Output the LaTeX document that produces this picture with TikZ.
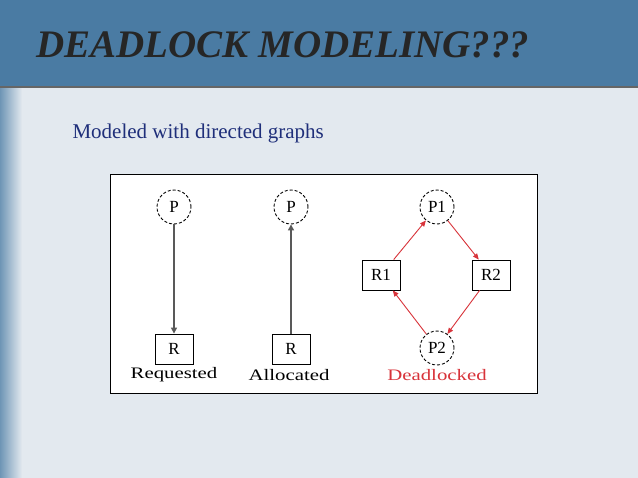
\documentclass[tikz,border=0pt]{standalone}
\usepackage{fontspec}
\setmainfont{Liberation Serif}
\usetikzlibrary{arrows.meta}
\definecolor{bar}{HTML}{4A7BA3}
\definecolor{bg}{HTML}{E3E9EF}
\definecolor{navy}{HTML}{1F2F7A}
\definecolor{dred}{HTML}{D8333A}
\tikzset{
 proc/.style={circle,draw,densely dashed,line width=0.9pt,minimum size=34pt,inner sep=0pt,font=\fontsize{17}{17}\selectfont},
 res/.style={rectangle,draw,line width=0.8pt,minimum width=38pt,minimum height=30pt,inner sep=0pt,font=\fontsize{17}{17}\selectfont},
 lab/.style={font=\fontsize{16}{16}\selectfont,xscale=1.3},
 edge/.style={draw=gray!70!black,line width=1.4pt,-{Triangle[length=6pt,width=6pt]}},
 redge/.style={draw=dred,line width=0.9pt,-{Triangle[length=6pt,width=5pt]}}
}
\begin{document}
\begin{tikzpicture}[x=1pt,y=-1pt]
\useasboundingbox (0,0) rectangle (638,478);
\fill[bg] (0,0) rectangle (638,478);
\fill[left color=bar!80,right color=bg] (0,88) rectangle (22,478);
\fill[bar] (0,0) rectangle (638,86);
\draw[black!60,line width=1.5pt] (0,87) -- (638,87);
\node[anchor=base west,font=\fontsize{39}{39}\selectfont\bfseries\itshape,text=black!85] (title) at (33,58) {DEADLOCK MODELING???};
\node[anchor=base west,font=\fontsize{21}{21}\selectfont,text=navy] (sub) at (69,139) {Modeled with directed graphs};
\node[draw,fill=white,line width=0.6pt,minimum width=427pt,minimum height=219pt,anchor=north west] (box) at (110,174) {};
\node[proc] (p) at (174,207) {P};
\node[res] (r) at (174,349) {R};
\node[proc] (pa) at (291,207) {P};
\node[res] (ra) at (291,349) {R};
\node[proc] (p1) at (437,207) {P1};
\node[proc] (p2) at (437,348) {P2};
\node[res] (r1) at (381,275) {R1};
\node[res] (r2) at (491,275) {R2};
\node[lab] (l1) at (174,375) {Requested};
\node[lab] (l2) at (289,375) {Allocated};
\node[lab,text=dred] (l3) at (437,375) {Deadlocked};
\draw[edge] (p) -- (r);
\draw[edge] (ra) -- (pa);
\draw[redge] (r1) -- (p1);
\draw[redge] (p1) -- (r2);
\draw[redge] (r2) -- (p2);
\draw[redge] (p2) -- (r1);
\end{tikzpicture}
\end{document}
